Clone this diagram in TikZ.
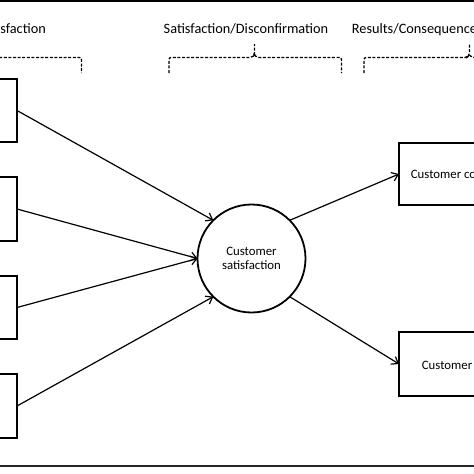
\documentclass[tikz,border=0pt]{standalone}
\usepackage{fontspec}
\setmainfont{Carlito}
\usetikzlibrary{arrows.meta}
\begin{document}
\begin{tikzpicture}[x=1pt, y=-1pt,
	box/.style={draw, line width=1.8pt, outer sep=0pt, inner sep=0pt},
	pfeil/.style={line width=1.2pt, -{Straight Barb[length=6pt, width=9pt]}},
	klammer/.style={line width=1.3pt, dash pattern=on 3pt off 1.6pt, rounded corners=2pt},
	kopf/.style={font=\fontsize{14.3}{17}\selectfont, inner sep=0pt},
	schrift/.style={font=\fontsize{12.8}{14}\selectfont, inner sep=0pt}]
	\useasboundingbox (0, 0) rectangle (474, 474);
	\clip (0, 0) rectangle (474, 474);
	\draw[line width=2pt](0, 0.8) -- (474, 0.8);%oben
	\draw[line width=2pt, black!85](0, 466) -- (474, 466);%unten
	% Ueberschriften
	\node[kopf, anchor=base east] (t1) at (46, 33) {sfaction};
	\node[kopf, anchor=base] (t2) at (246, 33) {Satisfaction/Disconfirmation};
	\node[kopf, anchor=base west] (t3) at (351.7, 33) {Results/Consequence};
	\draw[klammer](-10, 57.5) -- (81.5, 57.5) -- (81.5, 73);%Klammer 1
	\draw[klammer](169, 73) -- (169, 57.5) -- (252, 57.5) -- (254.5, 55) -- (254.5, 44);
	\draw[klammer](254.5, 55) -- (257, 57.5) -- (341.5, 57.5) -- (341.5, 73);%Klammer 2
	\draw[klammer](364, 73) -- (364, 57.5) -- (467, 57.5) -- (469.5, 55) -- (469.5, 44);
	\draw[klammer](469.5, 55) -- (472, 57.5) -- (490, 57.5);%Klammer 3
	% links
	\node[box, minimum width=100, minimum height=63, anchor=east] (b1) at (17, 110.5) {};
	\node[box, minimum width=100, minimum height=64, anchor=east] (b2) at (17, 209) {};
	\node[box, minimum width=100, minimum height=63, anchor=east] (b3) at (17, 307.5) {};
	\node[box, minimum width=100, minimum height=64, anchor=east] (b4) at (17, 406) {};
	% Mitte
	\node[box, circle, minimum size=108, schrift, align=center] (zuf) at (251.5, 258.5) {Customer\\satisfaction};
	% rechts
	\node[box, minimum width=134, minimum height=62, anchor=west] (r1) at (399, 174) {};
	\node[box, minimum width=134, minimum height=64, anchor=west] (r2) at (399, 364) {};
	\node[schrift, anchor=base west] (r1t) at (410.7, 178) {Customer co};
	\node[schrift, anchor=base west] (r2t) at (421.7, 369) {Customer};
	\draw[pfeil](b1.east) -- (zuf.north west);
	\draw[pfeil](b2.east) -- (zuf.west);
	\draw[pfeil](b3.east) -- (zuf.west);
	\draw[pfeil](b4.east) -- (zuf.south west);
	\draw[pfeil](zuf.north east) -- (r1.west);
	\draw[pfeil](zuf.south east) -- (r2.west);
\end{tikzpicture}
\end{document}
